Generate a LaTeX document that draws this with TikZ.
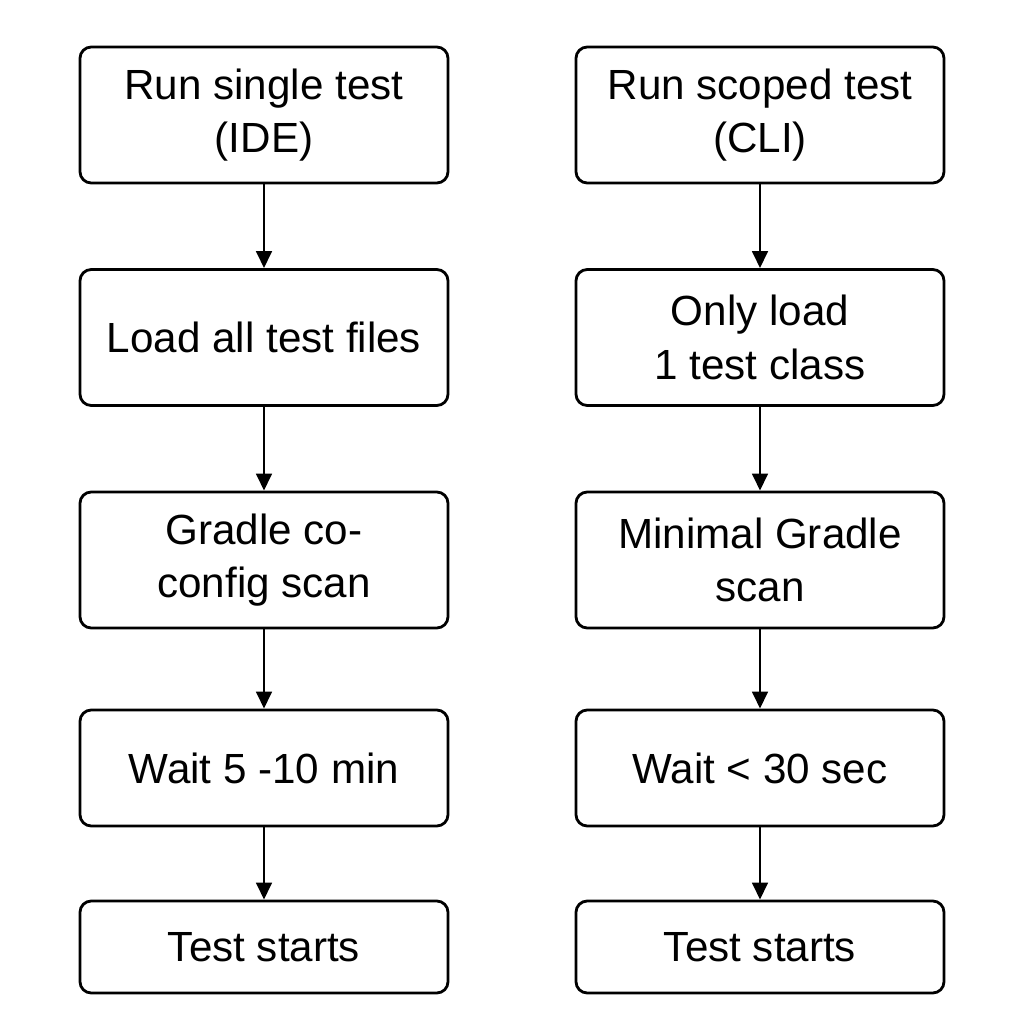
\documentclass[tikz,border=0pt]{standalone}
\usepackage{fontspec}
\setmainfont{Liberation Sans}
\usepackage{tikz}
\usetikzlibrary{arrows.meta, positioning}
\tikzset{
  flow arrow/.style={-{Triangle[length=12pt,width=11pt]}, line width=2pt},
}

\begin{document}
\begin{tikzpicture}[font=\fontsize{30}{38}\selectfont,
    stepbox/.style={draw=black, fill=white, rounded corners=8pt, line width=2pt,
                    align=center, inner sep=0pt, minimum width=9.2cm},
    tall/.style={stepbox, minimum height=3.4cm},
    mid/.style={stepbox, minimum height=2.9cm},
    short/.style={stepbox, minimum height=2.3cm}]
  \useasboundingbox (0,0) rectangle (25.6,-25.6);
  % Nodes: IDE path
  \node[tall]  (ideRun)   at (6.6, -2.875)  {Run single test\\(IDE)};
  \node[tall]  (ideLoad)  at (6.6, -8.4375) {Load all test files};
  \node[tall]  (ideScan)  at (6.6, -14.0)   {Gradle co-\\config scan};
  \node[mid]   (ideWait)  at (6.6, -19.2)   {Wait 5 -10 min};
  \node[short] (ideStart) at (6.6, -23.675) {Test starts};
  % Nodes: CLI path
  \node[tall]  (cliRun)   at (19.0, -2.875)  {Run scoped test\\(CLI)};
  \node[tall]  (cliLoad)  at (19.0, -8.4375) {Only load\\1 test class};
  \node[tall]  (cliScan)  at (19.0, -14.0)   {Minimal Gradle\\scan};
  \node[mid]   (cliWait)  at (19.0, -19.2)   {Wait < 30 sec};
  \node[short] (cliStart) at (19.0, -23.675) {Test starts};
  % Arrows
  \draw[flow arrow] (ideRun)  -- (ideLoad);
  \draw[flow arrow] (ideLoad) -- (ideScan);
  \draw[flow arrow] (ideScan) -- (ideWait);
  \draw[flow arrow] (ideWait) -- (ideStart);
  \draw[flow arrow] (cliRun)  -- (cliLoad);
  \draw[flow arrow] (cliLoad) -- (cliScan);
  \draw[flow arrow] (cliScan) -- (cliWait);
  \draw[flow arrow] (cliWait) -- (cliStart);
\end{tikzpicture}
\end{document}
